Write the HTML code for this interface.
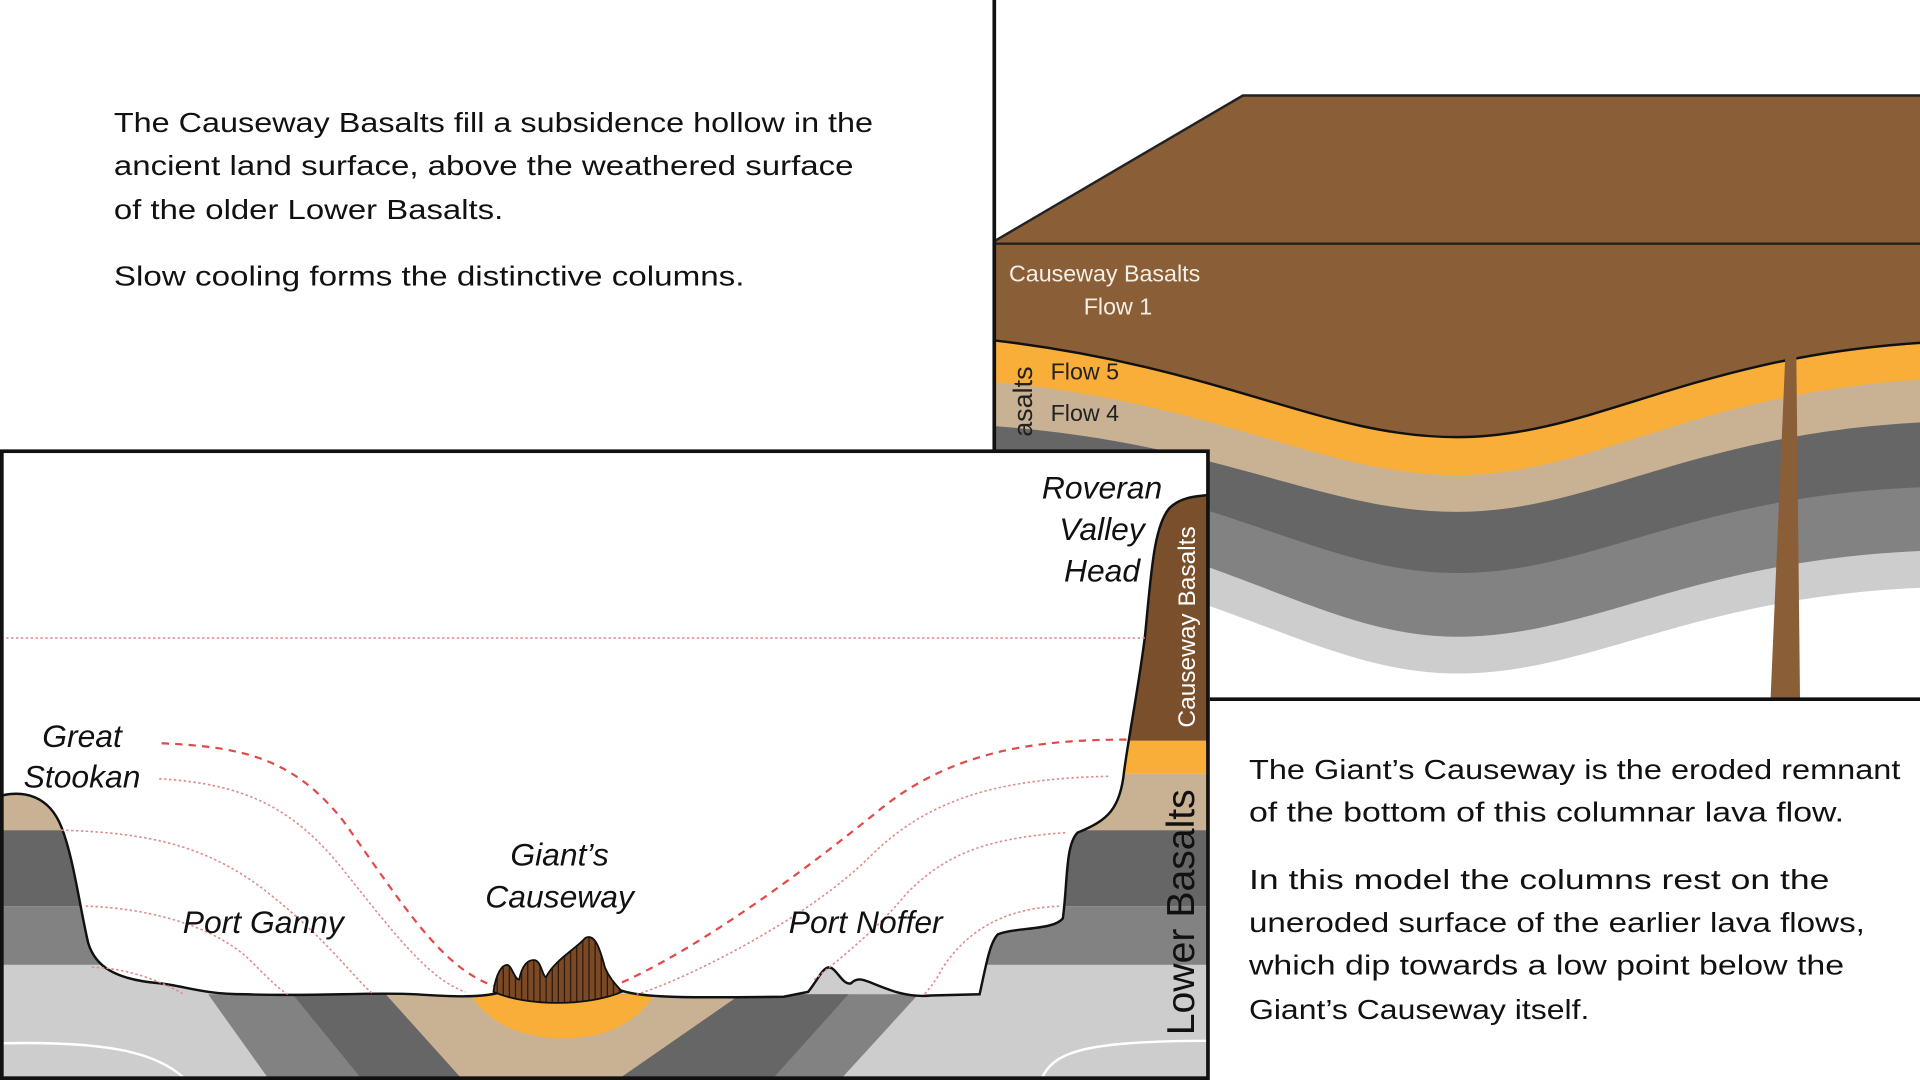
<!DOCTYPE html>
<html><head><meta charset="utf-8"><style>html,body{margin:0;padding:0;background:#fff}svg{display:block}</style></head>
<body>
<svg width="1920" height="1080" viewBox="0 0 1568 882" xmlns="http://www.w3.org/2000/svg" font-family="Liberation Sans, sans-serif">
<defs>
<clipPath id="rp"><rect x="812" y="0" width="756" height="570"/></clipPath>
<clipPath id="bp"><rect x="2" y="368" width="984" height="512"/></clipPath>
<pattern id="str" width="5" height="10" patternUnits="userSpaceOnUse"><rect width="5" height="10" fill="#7a4a26"/><line x1="1" y1="0" x2="1" y2="10" stroke="#2a160a" stroke-width="1"/></pattern>
</defs>
<rect width="1568" height="882" fill="#fff"/>

<!-- Right panel -->
<g clip-path="url(#rp)">
<path d="M812,278 C1000,300 1080,357 1190,357 C1300,357 1380,292 1568,280 L1568,570 L812,570Z" fill="#f9ae3a"/>
<path d="M812,312 C1000,330 1080,388 1190,388 C1300,388 1380,322 1568,310 L1568,570 L812,570Z" fill="#c9b293"/>
<path d="M812,348 C1000,362 1080,418 1190,418 C1300,418 1380,355 1568,345 L1568,570 L812,570Z" fill="#666"/>
<path d="M812,380 C1000,400 1080,468 1190,468 C1300,468 1380,405 1568,398 L1568,570 L812,570Z" fill="#828282"/>
<path d="M812,420 C1000,445 1080,520 1190,520 C1300,520 1380,458 1568,450 L1568,570 L812,570Z" fill="#cdcdcd"/>
<path d="M812,450 C1000,478 1080,550 1190,550 C1300,550 1380,488 1568,480 L1568,570 L812,570Z" fill="#fff"/>
<path d="M812,197 L1015,78 L1568,78 L1568,280 C1380,292 1300,357 1190,357 C1080,357 1000,300 812,278Z" fill="#8a5f38"/>
<path d="M812,278 C1000,300 1080,357 1190,357 C1300,357 1380,292 1568,280" fill="none" stroke="#111" stroke-width="2"/>
<path d="M812,197 L1015,78 L1568,78 M812,199 L1568,199" fill="none" stroke="#222" stroke-width="2"/>
<polygon points="1458,290 1467,290 1470,570 1446,570" fill="#8a5f38"/>
</g>
<text x="824" y="230" font-size="19" fill="#f4eee6">Causeway Basalts</text>
<text x="913" y="257" font-size="19" fill="#f4eee6" text-anchor="middle">Flow 1</text>
<text x="858" y="310" font-size="19" fill="#222">Flow 5</text>
<text x="858" y="344" font-size="19" fill="#222">Flow 4</text>
<text transform="translate(843,328) rotate(-90)" font-size="22" fill="#222" text-anchor="middle">asalts</text>
<line x1="812" y1="0" x2="812" y2="368" stroke="#111" stroke-width="3"/>
<line x1="988" y1="571" x2="1568" y2="571" stroke="#111" stroke-width="3"/>

<!-- Bottom panel -->
<g clip-path="url(#bp)">
<rect x="0" y="405" width="990" height="200" fill="#7a4f2c"/>
<rect x="0" y="605" width="990" height="27" fill="#f9ae3a"/>
<rect x="0" y="632" width="990" height="46" fill="#c9b293"/>
<rect x="0" y="678" width="990" height="62" fill="#666"/>
<rect x="0" y="740" width="990" height="48" fill="#828282"/>
<rect x="0" y="788" width="990" height="94" fill="#cdcdcd"/>
<path d="M0,852 C90,850 130,860 152,882" fill="none" stroke="#fff" stroke-width="2"/>
<path d="M990,850 C880,850 860,860 850,882" fill="none" stroke="#fff" stroke-width="2"/>
<polygon points="170,812 750,812 686,882 220,882" fill="#828282"/>
<polygon points="239,812 693,812 630,882 296,882" fill="#666"/>
<polygon points="315,812 605,812 504,882 378,882" fill="#c9b293"/>
<path d="M384,812 L535,812 C520,835 495,848 460,848 C425,848 398,835 384,812Z" fill="#f9ae3a"/>
<path d="M0,369 L0,650 C20,645 40,650 50,675 C60,700 65,740 72,770 C78,790 95,800 130,803 C150,805 165,812 200,812 C260,814 300,810 340,812 C370,814 395,815 410,810 L505,808 C520,815 560,815 640,814 L660,810 C668,800 672,790 677,790 C683,790 688,805 695,803 C700,798 705,800 710,802 C725,808 740,815 760,813 L800,812 C805,790 808,770 815,763 C830,757 860,760 868,750 C872,720 870,690 880,680 C905,670 915,660 918,630 C922,600 930,560 935,520 C940,470 942,430 955,415 C965,405 980,405 990,404 L990,369 Z" fill="#fff" stroke="#111" stroke-width="2"/>
<!-- columns -->
<path d="M403,810 C405,795 410,788 414,788 C418,788 420,800 424,800 C426,790 430,784 436,784 C442,784 443,798 446,798 C452,785 470,775 478,766 C486,762 490,775 494,790 C498,800 505,806 508,810 C480,822 430,822 403,810Z" fill="url(#str)" stroke="#111" stroke-width="1.5"/>
<!-- dotted lines -->
<line x1="5" y1="521" x2="935" y2="521" stroke="#e08a8a" stroke-width="1.2" stroke-dasharray="2,2"/>
<g fill="none" stroke="#e08a8a" stroke-width="1.3" stroke-dasharray="2,2">
<path d="M130,636 C200,640 240,660 280,710 C320,760 350,800 380,810"/>
<path d="M50,678 C120,680 170,690 220,730 C270,770 290,800 305,812"/>
<path d="M70,740 C130,742 180,760 205,785 C220,800 228,808 235,812"/>
<path d="M75,790 C100,790 130,800 150,812"/>
<path d="M905,634 C820,636 760,650 710,700 C660,750 560,800 520,812"/>
<path d="M870,680 C800,685 770,700 740,730 C720,755 690,780 665,800"/>
<path d="M865,740 C820,742 790,760 770,790 C765,800 760,806 755,812"/>
</g>
<g fill="none" stroke="#e04a4a" stroke-width="1.8" stroke-dasharray="6,5">
<path d="M132,607 C200,610 240,620 280,670 C330,740 360,790 403,805"/>
<path d="M920,604 C850,604 780,612 720,660 C640,725 560,780 504,804"/>
</g>
</g>
<rect x="1.5" y="368.5" width="985" height="512" fill="none" stroke="#111" stroke-width="3"/>

<g font-size="26" font-style="italic" fill="#111" text-anchor="middle">
<text x="67" y="610">Great</text>
<text x="67" y="643">Stookan</text>
<text x="215" y="762">Port Ganny</text>
<text x="457" y="707">Giant’s</text>
<text x="457" y="741">Causeway</text>
<text x="707" y="762">Port Noffer</text>
<text x="900" y="407">Roveran</text>
<text x="900" y="441">Valley</text>
<text x="900" y="475">Head</text>
</g>
<text transform="translate(976,512) rotate(-90)" font-size="20" fill="#fff" text-anchor="middle">Causeway Basalts</text>
<text transform="translate(975,745) rotate(-90)" font-size="32" fill="#111" text-anchor="middle">Lower Basalts</text>

<!-- Paragraph text -->
<g font-size="23" fill="#111">
<text x="93" y="108" textLength="620" lengthAdjust="spacingAndGlyphs">The Causeway Basalts fill a subsidence hollow in the</text>
<text x="93" y="143" textLength="604" lengthAdjust="spacingAndGlyphs">ancient land surface, above the weathered surface</text>
<text x="93" y="179" textLength="318" lengthAdjust="spacingAndGlyphs">of the older Lower Basalts.</text>
<text x="93" y="233" textLength="515" lengthAdjust="spacingAndGlyphs">Slow cooling forms the distinctive columns.</text>
<text x="1020" y="636" textLength="532" lengthAdjust="spacingAndGlyphs">The Giant’s Causeway is the eroded remnant</text>
<text x="1020" y="671" textLength="486" lengthAdjust="spacingAndGlyphs">of the bottom of this columnar lava flow.</text>
<text x="1020" y="726" textLength="474" lengthAdjust="spacingAndGlyphs">In this model the columns rest on the</text>
<text x="1020" y="761" textLength="503" lengthAdjust="spacingAndGlyphs">uneroded surface of the earlier lava flows,</text>
<text x="1020" y="796" textLength="486" lengthAdjust="spacingAndGlyphs">which dip towards a low point below the</text>
<text x="1020" y="832" textLength="278" lengthAdjust="spacingAndGlyphs">Giant’s Causeway itself.</text>
</g>
</svg>
</body></html>
